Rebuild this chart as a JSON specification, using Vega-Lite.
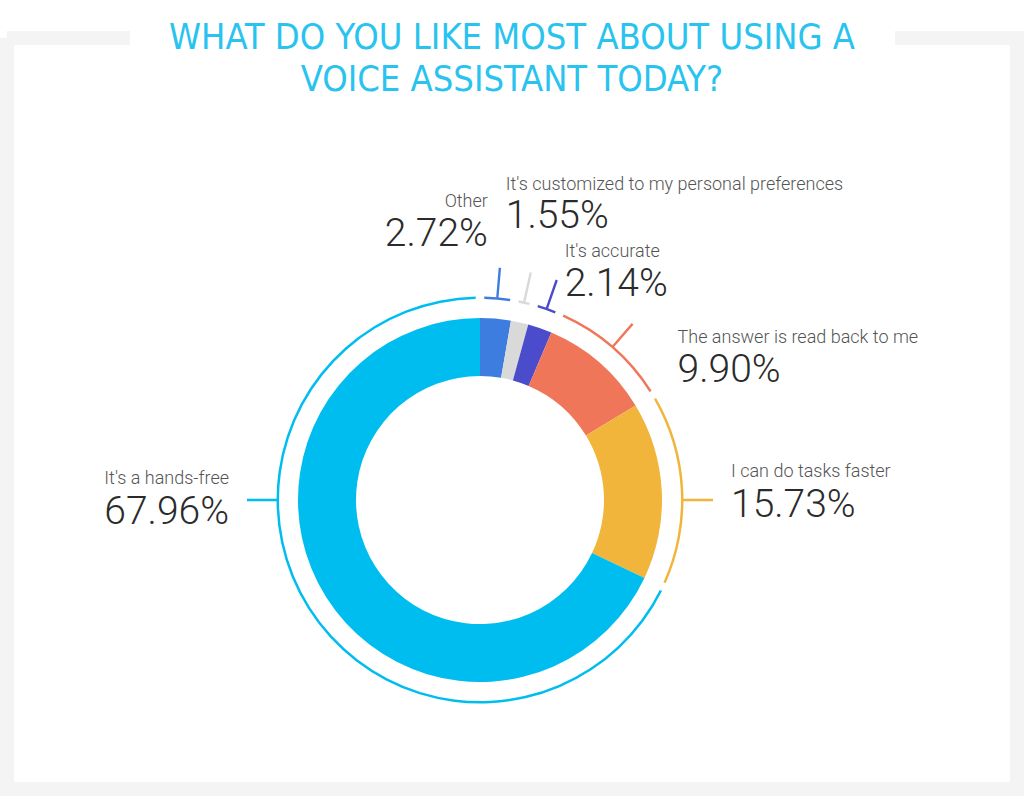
{
  "$schema": "https://vega.github.io/schema/vega-lite/v6.json",
  "description": "What do you like most about using a voice assistant today? Donut of answer shares.",
  "width": 1010,
  "height": 751,
  "autosize": {"type": "none"},
  "padding": {"left": 7, "right": 7, "top": 38, "bottom": 7},
  "background": "white",
  "view": {
    "fill": "white",
    "stroke": "#f4f4f4",
    "strokeWidth": 14,
    "strokeCap": "butt",
    "strokeDash": [123, 765, 2634, 0]
  },
  "title": {
    "text": ["WHAT DO YOU LIKE MOST ABOUT USING A", "VOICE ASSISTANT TODAY?"],
    "anchor": "middle",
    "font": "DejaVu Sans Condensed, sans-serif",
    "fontSize": 36,
    "fontWeight": "normal",
    "color": "#29c3ef",
    "lineHeight": 42,
    "offset": -61
  },
  "data": {
    "values": [
      {"rank": 1, "answer": "Other", "share": 0.0272},
      {"rank": 2, "answer": "It's customized to my personal preferences", "share": 0.0155},
      {"rank": 3, "answer": "It's accurate", "share": 0.0214},
      {"rank": 4, "answer": "The answer is read back to me", "share": 0.099},
      {"rank": 5, "answer": "I can do tasks faster", "share": 0.1573},
      {"rank": 6, "answer": "It's a hands-free", "share": 0.6796}
    ]
  },
  "transform": [
    {"stack": "share", "groupby": [], "sort": [{"field": "rank", "order": "ascending"}], "as": ["start", "end"]},
    {"calculate": "datum.start <= 0.75 && datum.end >= 0.75 ? 0.75 : (datum.start <= 0.25 && datum.end >= 0.25 ? 0.25 : (datum.start + datum.end) / 2)", "as": "tip"}
  ],
  "encoding": {
    "color": {
      "field": "answer",
      "type": "nominal",
      "legend": null,
      "scale": {
        "domain": ["Other", "It's customized to my personal preferences", "It's accurate", "The answer is read back to me", "I can do tasks faster", "It's a hands-free"],
        "range": ["#3d7ddf", "#d9d9d9", "#4b4ccb", "#f07659", "#f0b53a", "#00bdf0"]
      }
    }
  },
  "layer": [
    {
      "mark": {"type": "arc", "x": 473, "y": 462, "radius": 182, "radius2": 124},
      "encoding": {
        "theta": {"field": "start", "type": "quantitative", "stack": null, "scale": {"domain": [0, 1]}},
        "theta2": {"field": "end"}
      }
    },
    {
      "mark": {"type": "arc", "x": 473, "y": 462, "radius": 203.5, "radius2": 201, "padAngle": 0.03},
      "encoding": {
        "theta": {"field": "start", "type": "quantitative", "stack": null},
        "theta2": {"field": "end"}
      }
    },
    {
      "mark": {"type": "arc", "filled": false, "strokeWidth": 2.4, "x": 473, "y": 462, "radius": 233, "radius2": 203},
      "encoding": {
        "theta": {"field": "tip", "type": "quantitative", "stack": null},
        "theta2": {"field": "tip"}
      }
    },
    {
      "mark": {
        "type": "text",
        "x": 473,
        "y": 462,
        "radius": 233,
        "font": "Roboto",
        "fontWeight": 300,
        "fontSize": 18,
        "baseline": "alphabetic",
        "align": {"expr": "['right', 'left', 'left', 'left', 'left', 'right'][datum.rank - 1]"},
        "dx": {"expr": "[-12, -25, 8, 45, 18, -18][datum.rank - 1]"},
        "dy": {"expr": "[-61, -83, -23, 19, -23, -16][datum.rank - 1]"}
      },
      "encoding": {
        "theta": {"field": "tip", "type": "quantitative", "stack": null},
        "text": {"field": "answer", "type": "nominal"},
        "color": {"value": "#555555"}
      }
    },
    {
      "mark": {
        "type": "text",
        "x": 473,
        "y": 462,
        "radius": 233,
        "font": "Roboto",
        "fontWeight": 300,
        "fontSize": 39,
        "baseline": "alphabetic",
        "align": {"expr": "['right', 'left', 'left', 'left', 'left', 'right'][datum.rank - 1]"},
        "dx": {"expr": "[-12, -25, 8, 45, 18, -18][datum.rank - 1]"},
        "dy": {"expr": "[-22, -45, 16, 58, 17, 24][datum.rank - 1]"}
      },
      "encoding": {
        "theta": {"field": "tip", "type": "quantitative", "stack": null},
        "text": {"field": "share", "type": "quantitative", "format": ".2%"},
        "color": {"value": "#2b2b2b"}
      }
    }
  ]
}
